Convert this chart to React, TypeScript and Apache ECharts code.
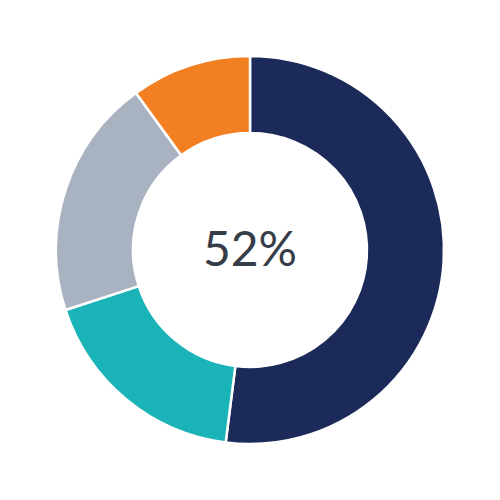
import React, { useEffect, useRef } from 'react';
import * as echarts from 'echarts';

const labels = ['A', 'B', 'C', 'D'];
const values = [52, 18, 20, 10];
const colors = ['#1b2a58', '#1ab4b8', '#a8b2c0', '#f27f22'];
const centerLabel = '52%';

export default function App() {
  const chartRef = useRef<HTMLDivElement>(null);

  useEffect(() => {
    document.body.style.margin = '0';
    if (!chartRef.current) return;
    const chart = echarts.init(chartRef.current, null, { renderer: 'svg' });

    chart.setOption({
      animation: false,
      backgroundColor: '#ffffff',
      graphic: [
        {
          type: 'text',
          x: 250,
          y: 247,
          style: {
            text: centerLabel,
            fontFamily: 'Lato',
            fontWeight: 400,
            fontSize: 48,
            fill: '#363d48',
            align: 'center',
            verticalAlign: 'middle',
          },
        },
      ],
      series: [
        {
          type: 'pie',
          center: ['50%', '50%'],
          radius: ['46.8%', '77.6%'],
          startAngle: 90,
          clockwise: true,
          label: { show: false },
          labelLine: { show: false },
          itemStyle: { borderColor: '#ffffff', borderWidth: 2.5 },
          data: labels.map((name, i) => ({
            name,
            value: values[i],
            itemStyle: { color: colors[i] },
          })),
        },
      ],
    });

    return () => {
      chart.dispose();
    };
  }, []);

  return <div ref={chartRef} style={{ width: '500px', height: '500px' }} />;
}
